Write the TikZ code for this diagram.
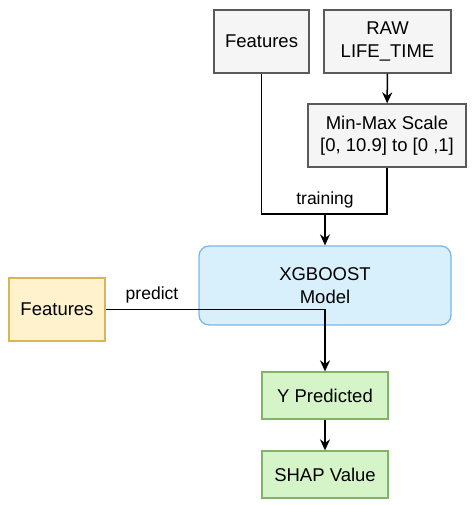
\documentclass[tikz,border=0pt]{standalone}
\usepackage{fontspec}
\setmainfont{Liberation Sans}
\usetikzlibrary{arrows.meta}
\definecolor{grayfill}{HTML}{F5F5F5}
\definecolor{grayline}{HTML}{5A5A5A}
\definecolor{bluefill}{HTML}{D7F0FC}
\definecolor{blueline}{HTML}{7DB7E6}
\definecolor{yellowfill}{HTML}{FFF2CC}
\definecolor{yellowline}{HTML}{D6B656}
\definecolor{greenfill}{HTML}{D5F5C9}
\definecolor{greenline}{HTML}{82B366}
\begin{document}
\begin{tikzpicture}[x=1pt,y=-1pt,
  font=\fontsize{18.5}{22.5}\selectfont,
  box/.style={draw, line width=1.3pt, inner sep=0pt, align=center},
  graybox/.style={box, draw=grayline, fill=grayfill},
  greenbox/.style={box, draw=greenline, fill=greenfill},
  flow/.style={line width=1.5pt, -{Stealth[length=11pt,width=10pt]}},
  link/.style={line width=1.5pt},
  lbl/.style={font=\fontsize{17.5}{21}\selectfont}]
\useasboundingbox (0,0) rectangle (474,505);

% data sources
\node[graybox, minimum width=95pt, minimum height=63pt] (feat) at (261.5,41.5) {Features};
\node[graybox, minimum width=127pt, minimum height=63pt] (raw) at (387.5,41.5) {RAW\\LIFE\_TIME};
\node[graybox, minimum width=158pt, minimum height=63pt] (scale) at (387,135.5) {Min-Max Scale\\{[}0, 10.9{]} to {[}0 ,1{]}};

% model
\node[box, draw=blueline, fill=bluefill, rounded corners=10pt, minimum width=252pt, minimum height=79pt] (model) at (325,285.5) {XGBOOST\\Model};

% prediction input
\node[box, draw=yellowline, fill=yellowfill, minimum width=96pt, minimum height=63pt] (pfeat) at (57,309.5) {Features};

% outputs
\node[greenbox, minimum width=126pt, minimum height=47pt] (ypred) at (325,395.5) {Y Predicted};
\node[greenbox, minimum width=126pt, minimum height=47pt] (shap) at (325,474.5) {SHAP Value};

% training path
\coordinate (join) at (325,214);
\draw[flow] (raw) -- (scale);
\draw[link] (feat.south) -- (feat.south |- join) -- (scale.south |- join) -- (scale.south);
\draw[flow] (join) -- (model.north);
\node[lbl] (trainlbl) at (325,200) {training};

% prediction path
\draw[flow] (pfeat.east) -- (ypred.north |- pfeat.east) -- (ypred.north);
\node[lbl] (predlbl) at (152,295) {predict};
\draw[flow] (ypred) -- (shap);
\end{tikzpicture}
\end{document}
